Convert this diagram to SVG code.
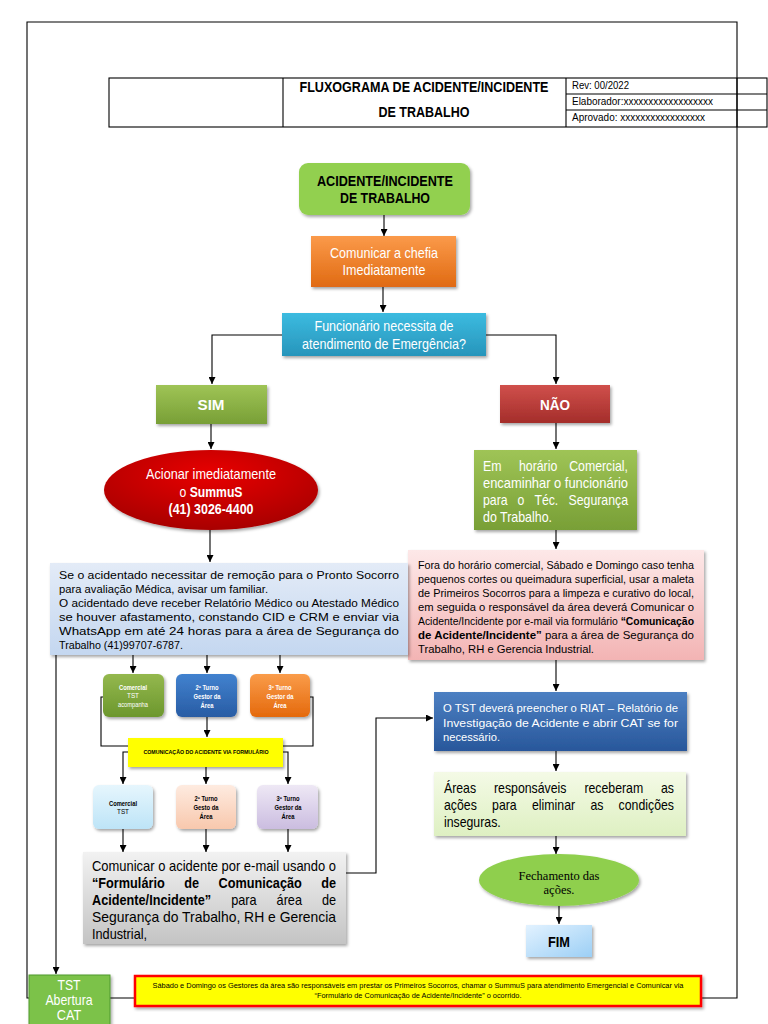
<svg xmlns="http://www.w3.org/2000/svg" width="768" height="1024" viewBox="0 0 768 1024">
<style>
.n{font-family:"Liberation Sans Narrow","Arial Narrow","Liberation Sans",Arial,sans-serif}
.r{font-family:"Liberation Sans",Arial,sans-serif}
.s{font-family:"Liberation Serif","Times New Roman",serif}
.b{font-weight:bold}
.w{fill:#fff}
.k{fill:#000}
.c{text-anchor:middle}
.e{text-anchor:end}
.ln{fill:none;stroke:#000;stroke-width:1.1}
.arr{marker-end:url(#ah)}
.sh{filter:url(#shd)}
</style>
<defs>
<marker id="ah" viewBox="0 0 10 10" refX="10" refY="5" markerWidth="7" markerHeight="7" markerUnits="userSpaceOnUse" orient="auto"><path d="M0,0 L10,5 L0,10z" fill="#000"/></marker>
<filter id="shd" x="-10%" y="-10%" width="125%" height="130%"><feDropShadow dx="1.5" dy="2" stdDeviation="1.5" flood-color="#000" flood-opacity="0.35"/></filter>
<linearGradient id="gOr" x1="0" y1="0" x2="0" y2="1"><stop offset="0" stop-color="#fb9a4a"/><stop offset="1" stop-color="#e06a12"/></linearGradient>
<linearGradient id="gTe" x1="0" y1="0" x2="0" y2="1"><stop offset="0" stop-color="#3cbbe0"/><stop offset="1" stop-color="#2795bb"/></linearGradient>
<linearGradient id="gOl" x1="0" y1="0" x2="0" y2="1"><stop offset="0" stop-color="#9fc456"/><stop offset="1" stop-color="#789f36"/></linearGradient>
<linearGradient id="gRd" x1="0" y1="0" x2="0" y2="1"><stop offset="0" stop-color="#d0504c"/><stop offset="1" stop-color="#a42d2a"/></linearGradient>
<radialGradient id="gEl" cx="0.5" cy="0.3" r="0.7"><stop offset="0" stop-color="#e80000"/><stop offset="1" stop-color="#a80000"/></radialGradient>
<linearGradient id="gIn" x1="0" y1="0" x2="0" y2="1"><stop offset="0" stop-color="#e3ebf7"/><stop offset="1" stop-color="#c4d7f0"/></linearGradient>
<linearGradient id="gPk" x1="0" y1="0" x2="0" y2="1"><stop offset="0" stop-color="#fde8e8"/><stop offset="1" stop-color="#f3b4b4"/></linearGradient>
<linearGradient id="gBl" x1="0" y1="0" x2="0" y2="1"><stop offset="0" stop-color="#4d80c2"/><stop offset="1" stop-color="#28579b"/></linearGradient>
<linearGradient id="gLg" x1="0" y1="0" x2="0" y2="1"><stop offset="0" stop-color="#f4fae6"/><stop offset="1" stop-color="#def0c2"/></linearGradient>
<linearGradient id="gGy" x1="0" y1="0" x2="0" y2="1"><stop offset="0" stop-color="#f2f2f2"/><stop offset="1" stop-color="#c4c4c4"/></linearGradient>
<linearGradient id="gFm" x1="0" y1="0" x2="1" y2="1"><stop offset="0" stop-color="#e2f2ff"/><stop offset="1" stop-color="#9ccff5"/></linearGradient>
<linearGradient id="gSg" x1="0" y1="0" x2="0" y2="1"><stop offset="0" stop-color="#94b84e"/><stop offset="1" stop-color="#6c972d"/></linearGradient>
<linearGradient id="gSb" x1="0" y1="0" x2="0" y2="1"><stop offset="0" stop-color="#4282cf"/><stop offset="1" stop-color="#285ca4"/></linearGradient>
<linearGradient id="gSo" x1="0" y1="0" x2="0" y2="1"><stop offset="0" stop-color="#fa9c4a"/><stop offset="1" stop-color="#e4690c"/></linearGradient>
<linearGradient id="gLb" x1="0" y1="0" x2="0" y2="1"><stop offset="0" stop-color="#e6f6fd"/><stop offset="1" stop-color="#bde4f7"/></linearGradient>
<linearGradient id="gPc" x1="0" y1="0" x2="0" y2="1"><stop offset="0" stop-color="#feebe0"/><stop offset="1" stop-color="#f8c8ad"/></linearGradient>
<linearGradient id="gLv" x1="0" y1="0" x2="0" y2="1"><stop offset="0" stop-color="#eee8f5"/><stop offset="1" stop-color="#cbbde0"/></linearGradient>
</defs>
<rect width="768" height="1024" fill="#fff"/>

<g id="page">
<path d="M27,998 V22 H737 V998 Z" class="ln"/>
</g>

<g id="header">
<rect x="109" y="78" width="658" height="49" fill="none" stroke="#000" stroke-width="1.1"/>
<path d="M283,78 V127 M566,78 V127 M737,78 V127 M566,94 H767 M566,110 H767" class="ln"/>
<text class="n b k c" x="424" y="92" font-size="14.5" textLength="249" lengthAdjust="spacingAndGlyphs">FLUXOGRAMA DE ACIDENTE/INCIDENTE</text>
<text class="n b k c" x="424" y="117" font-size="14.5" textLength="91" lengthAdjust="spacingAndGlyphs">DE TRABALHO</text>
<text class="n k" x="572" y="89" font-size="10" textLength="57" lengthAdjust="spacingAndGlyphs">Rev: 00/2022</text>
<text class="n k" x="572" y="105" font-size="10" textLength="141" lengthAdjust="spacingAndGlyphs">Elaborador:xxxxxxxxxxxxxxxxxx</text>
<text class="n k" x="572" y="121" font-size="10" textLength="133" lengthAdjust="spacingAndGlyphs">Aprovado: xxxxxxxxxxxxxxxxx</text>
</g>

<g id="connectors">
<path class="ln arr" d="M384,215 V236"/>
<path class="ln arr" d="M383,287 V312"/>
<path class="ln arr" d="M282,335 H212 V384"/>
<path class="ln arr" d="M486,335 H556 V384"/>
<path class="ln arr" d="M211,424 V449"/>
<path class="ln arr" d="M556,423 V449"/>
<path class="ln arr" d="M210,530 V562"/>
<path class="ln arr" d="M556,530 V549"/>
<path class="ln arr" d="M133,655 V673"/>
<path class="ln arr" d="M207,655 V673"/>
<path class="ln arr" d="M280,655 V673"/>
<path class="ln" d="M103,697 H101 V746 H128"/>
<path class="ln" d="M310,697 H313 V746 H283"/>
<path class="ln arr" d="M207,717 V737"/>
<path class="ln arr" d="M128,752 H123 V784"/>
<path class="ln arr" d="M283,752 H288 V784"/>
<path class="ln arr" d="M206,767 V784"/>
<path class="ln arr" d="M123,829 V852"/>
<path class="ln arr" d="M206,829 V852"/>
<path class="ln arr" d="M288,829 V852"/>
<path class="ln arr" d="M346,873 H376 V718 H433"/>
<path class="ln arr" d="M556,660 V691"/>
<path class="ln arr" d="M556,751 V771"/>
<path class="ln arr" d="M556,836 V854"/>
<path class="ln arr" d="M559,906 V924"/>
<path class="ln arr" d="M56,655 V974"/>
</g>

<g id="n-acidente">
<rect x="299" y="163" width="171" height="52" rx="9" fill="#92d050" class="sh"/>
<text class="n b k c" x="385" y="186" font-size="14.5" textLength="136" lengthAdjust="spacingAndGlyphs">ACIDENTE/INCIDENTE</text>
<text class="n b k c" x="385" y="203" font-size="14.5" textLength="90" lengthAdjust="spacingAndGlyphs">DE TRABALHO</text>
</g>

<g id="n-chefia">
<rect x="311" y="236" width="145" height="51" fill="url(#gOr)" class="sh"/>
<text class="n w c" x="384" y="258" font-size="15" textLength="108" lengthAdjust="spacingAndGlyphs">Comunicar a chefia</text>
<text class="n w c" x="384" y="275" font-size="15" textLength="83" lengthAdjust="spacingAndGlyphs">Imediatamente</text>
</g>

<g id="n-emergencia">
<rect x="282" y="313" width="204" height="43" fill="url(#gTe)" class="sh"/>
<text class="n w c" x="384" y="331" font-size="15" textLength="139" lengthAdjust="spacingAndGlyphs">Funcionário necessita de</text>
<text class="n w c" x="384" y="349" font-size="15" textLength="164" lengthAdjust="spacingAndGlyphs">atendimento de Emergência?</text>
</g>

<g id="n-sim">
<rect x="156" y="385" width="111" height="39" fill="url(#gOl)" class="sh"/>
<text class="n b w c" x="211" y="410" font-size="14" textLength="27" lengthAdjust="spacingAndGlyphs">SIM</text>
</g>

<g id="n-summus">
<ellipse cx="211" cy="490" rx="107" ry="40" fill="url(#gEl)" class="sh"/>
<text class="n w c" x="211" y="479" font-size="14.5" textLength="130" lengthAdjust="spacingAndGlyphs">Acionar imediatamente</text>
<text class="n w c" x="211" y="497" font-size="14.5" textLength="63" lengthAdjust="spacingAndGlyphs">o <tspan class="b">SummuS</tspan></text>
<text class="n b w c" x="211" y="514" font-size="14.5" textLength="85" lengthAdjust="spacingAndGlyphs">(41) 3026-4400</text>
</g>

<g id="n-nao">
<rect x="500" y="385" width="110" height="38" fill="url(#gRd)" class="sh"/>
<text class="n b w c" x="555" y="410" font-size="14" textLength="30" lengthAdjust="spacingAndGlyphs">NÃO</text>
</g>

<g id="n-comercial">
<rect x="474" y="450" width="163" height="80" fill="url(#gOl)" class="sh"/>
<text class="n w" x="483" y="471" font-size="15" textLength="18.5" lengthAdjust="spacingAndGlyphs">Em</text>
<text class="n w" x="519" y="471" font-size="15" textLength="38.3" lengthAdjust="spacingAndGlyphs">horário</text>
<text class="n w" x="569.2" y="471" font-size="15" textLength="58.8" lengthAdjust="spacingAndGlyphs">Comercial,</text>
<text class="n w" x="483" y="488" font-size="15" textLength="145" lengthAdjust="spacingAndGlyphs">encaminhar o funcionário</text>
<text class="n w" x="483" y="505" font-size="15" textLength="24.6" lengthAdjust="spacingAndGlyphs">para</text>
<text class="n w" x="517.6" y="505" font-size="15" textLength="6.8" lengthAdjust="spacingAndGlyphs">o</text>
<text class="n w" x="534.4" y="505" font-size="15" textLength="23.9" lengthAdjust="spacingAndGlyphs">Téc.</text>
<text class="n w" x="568.5" y="505" font-size="15" textLength="59.5" lengthAdjust="spacingAndGlyphs">Segurança</text>
<text class="n w" x="483" y="522" font-size="15" textLength="69" lengthAdjust="spacingAndGlyphs">do Trabalho.</text>
</g>

<g id="n-fora">
<rect x="408" y="550" width="296" height="110" fill="url(#gPk)" class="sh"/>
<text class="r k" x="418" y="569" font-size="10.5" textLength="276" lengthAdjust="spacingAndGlyphs">Fora do horário comercial, Sábado e Domingo caso tenha</text>
<text class="r k" x="418" y="583" font-size="10.5" textLength="276" lengthAdjust="spacingAndGlyphs">pequenos cortes ou queimadura superficial, usar a maleta</text>
<text class="r k" x="418" y="597" font-size="10.5" textLength="276" lengthAdjust="spacingAndGlyphs">de Primeiros Socorros para a limpeza e curativo do local,</text>
<text class="r k" x="418" y="611" font-size="10.5" textLength="276" lengthAdjust="spacingAndGlyphs">em seguida o responsável da área deverá Comunicar o</text>
<text class="r k" x="418" y="625" font-size="10.5" textLength="276" lengthAdjust="spacingAndGlyphs">Acidente/Incidente por e-mail via formulário <tspan class="b">“Comunicação</tspan></text>
<text class="r k" x="418" y="639" font-size="10.5" textLength="276" lengthAdjust="spacingAndGlyphs"><tspan class="b">de Acidente/Incidente”</tspan> para a área de Segurança do</text>
<text class="r k" x="418" y="653" font-size="10.5" textLength="176" lengthAdjust="spacingAndGlyphs">Trabalho, RH e Gerencia Industrial.</text>
</g>

<g id="n-riat">
<rect x="434" y="692" width="253" height="59" fill="url(#gBl)" class="sh"/>
<text class="r w" x="443" y="712" font-size="11" textLength="235" lengthAdjust="spacingAndGlyphs">O TST deverá preencher o RIAT – Relatório de</text>
<text class="r w" x="443" y="727" font-size="11" textLength="235" lengthAdjust="spacingAndGlyphs">Investigação de Acidente e abrir CAT se for</text>
<text class="r w" x="443" y="741" font-size="11" textLength="57" lengthAdjust="spacingAndGlyphs">necessário.</text>
</g>

<g id="n-areas">
<rect x="434" y="772" width="252" height="64" fill="url(#gLg)" class="sh"/>
<text class="n k" x="444" y="793" font-size="15" textLength="32.1" lengthAdjust="spacingAndGlyphs">Áreas</text>
<text class="n k" x="494" y="793" font-size="15" textLength="72.5" lengthAdjust="spacingAndGlyphs">responsáveis</text>
<text class="n k" x="584.4" y="793" font-size="15" textLength="58.8" lengthAdjust="spacingAndGlyphs">receberam</text>
<text class="n k" x="661" y="793" font-size="15" textLength="13" lengthAdjust="spacingAndGlyphs">as</text>
<text class="n k" x="444" y="810" font-size="15" textLength="32.8" lengthAdjust="spacingAndGlyphs">ações</text>
<text class="n k" x="492.1" y="810" font-size="15" textLength="24.6" lengthAdjust="spacingAndGlyphs">para</text>
<text class="n k" x="532" y="810" font-size="15" textLength="43.1" lengthAdjust="spacingAndGlyphs">eliminar</text>
<text class="n k" x="590.4" y="810" font-size="15" textLength="13" lengthAdjust="spacingAndGlyphs">as</text>
<text class="n k" x="618.6" y="810" font-size="15" textLength="55.4" lengthAdjust="spacingAndGlyphs">condições</text>
<text class="n k" x="444" y="827" font-size="15" textLength="56.7" lengthAdjust="spacingAndGlyphs">inseguras.</text>
</g>

<g id="n-fechamento">
<ellipse cx="559" cy="880" rx="80" ry="26" fill="#8fcf4e" class="sh"/>
<text class="s k c" x="559" y="880" font-size="12.5">Fechamento das</text>
<text class="s k c" x="559" y="894" font-size="12.5">ações.</text>
</g>

<g id="n-fim">
<rect x="526" y="925" width="66" height="32" fill="url(#gFm)" class="sh"/>
<text class="n b k c" x="559" y="947" font-size="15" textLength="22" lengthAdjust="spacingAndGlyphs">FIM</text>
</g>

<g id="n-info">
<rect x="50" y="563" width="358" height="92" fill="url(#gIn)" class="sh"/>
<text class="r k" x="59" y="579" font-size="11.5" textLength="340" lengthAdjust="spacingAndGlyphs">Se o acidentado necessitar de remoção para o Pronto Socorro</text>
<text class="r k" x="59" y="593" font-size="11.5" textLength="209" lengthAdjust="spacingAndGlyphs">para avaliação Médica, avisar um familiar.</text>
<text class="r k" x="59" y="607" font-size="11.5" textLength="340" lengthAdjust="spacingAndGlyphs">O acidentado deve receber Relatório Médico ou Atestado Médico</text>
<text class="r k" x="59" y="621" font-size="11.5" textLength="340" lengthAdjust="spacingAndGlyphs">se houver afastamento, constando CID e CRM e enviar via</text>
<text class="r k" x="59" y="635" font-size="11.5" textLength="340" lengthAdjust="spacingAndGlyphs">WhatsApp em até 24 horas para a área de Segurança do</text>
<text class="r k" x="59" y="649" font-size="11.5" textLength="124" lengthAdjust="spacingAndGlyphs">Trabalho (41)99707-6787.</text>
</g>

<g id="n-s1">
<rect x="103" y="674" width="61" height="43" rx="6" fill="url(#gSg)" class="sh"/>
<text class="n b w c" x="133" y="690" font-size="7" textLength="28" lengthAdjust="spacingAndGlyphs">Comercial</text>
<text class="n w c" x="133" y="698" font-size="7" textLength="12" lengthAdjust="spacingAndGlyphs">TST</text>
<text class="n w c" x="133" y="707" font-size="7" textLength="30" lengthAdjust="spacingAndGlyphs">acompanha</text>
</g>
<g id="n-s2">
<rect x="176" y="674" width="61" height="43" rx="6" fill="url(#gSb)" class="sh"/>
<text class="n b w c" x="207" y="690" font-size="7" textLength="23" lengthAdjust="spacingAndGlyphs">2º Turno</text>
<text class="n b w c" x="207" y="699" font-size="7" textLength="27" lengthAdjust="spacingAndGlyphs">Gestor da</text>
<text class="n b w c" x="207" y="708" font-size="7" textLength="13" lengthAdjust="spacingAndGlyphs">Área</text>
</g>
<g id="n-s3">
<rect x="250" y="674" width="60" height="43" rx="6" fill="url(#gSo)" class="sh"/>
<text class="n b w c" x="280" y="690" font-size="7" textLength="23" lengthAdjust="spacingAndGlyphs">3º Turno</text>
<text class="n b w c" x="280" y="699" font-size="7" textLength="27" lengthAdjust="spacingAndGlyphs">Gestor da</text>
<text class="n b w c" x="280" y="708" font-size="7" textLength="13" lengthAdjust="spacingAndGlyphs">Área</text>
</g>

<g id="n-formulario">
<rect x="128" y="738" width="155" height="29" fill="#ffff00" class="sh"/>
<text class="n b k c" x="206" y="754" font-size="5.5" textLength="125" lengthAdjust="spacingAndGlyphs">COMUNICAÇÃO DO ACIDENTE VIA FORMULÁRIO</text>
</g>

<g id="n-t1">
<rect x="93" y="785" width="60" height="44" rx="6" fill="url(#gLb)" class="sh"/>
<text class="n b k c" x="123" y="806" font-size="7" textLength="28" lengthAdjust="spacingAndGlyphs">Comercial</text>
<text class="n k c" x="123" y="814" font-size="7" textLength="12" lengthAdjust="spacingAndGlyphs">TST</text>
</g>
<g id="n-t2">
<rect x="176" y="785" width="60" height="44" rx="6" fill="url(#gPc)" class="sh"/>
<text class="n b k c" x="206" y="801" font-size="7" textLength="23" lengthAdjust="spacingAndGlyphs">2º Turno</text>
<text class="n b k c" x="206" y="810" font-size="7" textLength="25" lengthAdjust="spacingAndGlyphs">Gesto da</text>
<text class="n b k c" x="206" y="819" font-size="7" textLength="13" lengthAdjust="spacingAndGlyphs">Área</text>
</g>
<g id="n-t3">
<rect x="257" y="785" width="61" height="44" rx="6" fill="url(#gLv)" class="sh"/>
<text class="n b k c" x="288" y="801" font-size="7" textLength="23" lengthAdjust="spacingAndGlyphs">3º Turno</text>
<text class="n b k c" x="288" y="810" font-size="7" textLength="27" lengthAdjust="spacingAndGlyphs">Gestor da</text>
<text class="n b k c" x="288" y="819" font-size="7" textLength="13" lengthAdjust="spacingAndGlyphs">Área</text>
</g>

<g id="n-email">
<rect x="83" y="852" width="263" height="92" fill="url(#gGy)" class="sh"/>
<text class="n k" x="92" y="871" font-size="14.5" textLength="244" lengthAdjust="spacingAndGlyphs">Comunicar o acidente por e-mail usando o</text>
<text class="n b k" x="92" y="888" font-size="14.5" textLength="72.7" lengthAdjust="spacingAndGlyphs">“Formulário</text>
<text class="n b k" x="184.2" y="888" font-size="14.5" textLength="14.8" lengthAdjust="spacingAndGlyphs">de</text>
<text class="n b k" x="218.5" y="888" font-size="14.5" textLength="83.3" lengthAdjust="spacingAndGlyphs">Comunicação</text>
<text class="n b k" x="321.2" y="888" font-size="14.5" textLength="14.8" lengthAdjust="spacingAndGlyphs">de</text>
<text class="n b k" x="92" y="905" font-size="14.5" textLength="119.2" lengthAdjust="spacingAndGlyphs">Acidente/Incidente”</text>
<text class="n k" x="231.2" y="905" font-size="14.5" textLength="25.4" lengthAdjust="spacingAndGlyphs">para</text>
<text class="n k" x="276.6" y="905" font-size="14.5" textLength="25.4" lengthAdjust="spacingAndGlyphs">área</text>
<text class="n k" x="321.9" y="905" font-size="14.5" textLength="14.1" lengthAdjust="spacingAndGlyphs">de</text>
<text class="n k" x="92" y="922" font-size="14.5" textLength="244" lengthAdjust="spacingAndGlyphs">Segurança do Trabalho, RH e Gerencia</text>
<text class="n k" x="92" y="939" font-size="14.5" textLength="55.1" lengthAdjust="spacingAndGlyphs">Industrial,</text>
</g>

<g id="n-cat">
<rect x="29" y="975" width="81" height="60" fill="#7cc24a" stroke="#4f9a2c" stroke-width="1" class="sh"/>
<text class="n w c" x="69" y="990" font-size="15" textLength="23.2" lengthAdjust="spacingAndGlyphs">TST</text>
<text class="n w c" x="69" y="1005" font-size="15" textLength="47.2" lengthAdjust="spacingAndGlyphs">Abertura</text>
<text class="n w c" x="69" y="1020" font-size="15" textLength="24.6" lengthAdjust="spacingAndGlyphs">CAT</text>
</g>

<g id="n-aviso">
<rect x="135" y="976" width="566" height="30" fill="#ffff00" stroke="#ff0000" stroke-width="2.5" class="sh"/>
<text class="r k c" x="418" y="988" font-size="7.2" textLength="531" lengthAdjust="spacingAndGlyphs">Sábado e Domingo os Gestores da área são responsáveis em prestar os Primeiros Socorros, chamar o SummuS para atendimento Emergencial e Comunicar via</text>
<text class="r k c" x="418" y="998" font-size="7.2" textLength="207" lengthAdjust="spacingAndGlyphs">“Formulário de Comunicação de Acidente/Incidente” o ocorrido.</text>
</g>
</svg>
